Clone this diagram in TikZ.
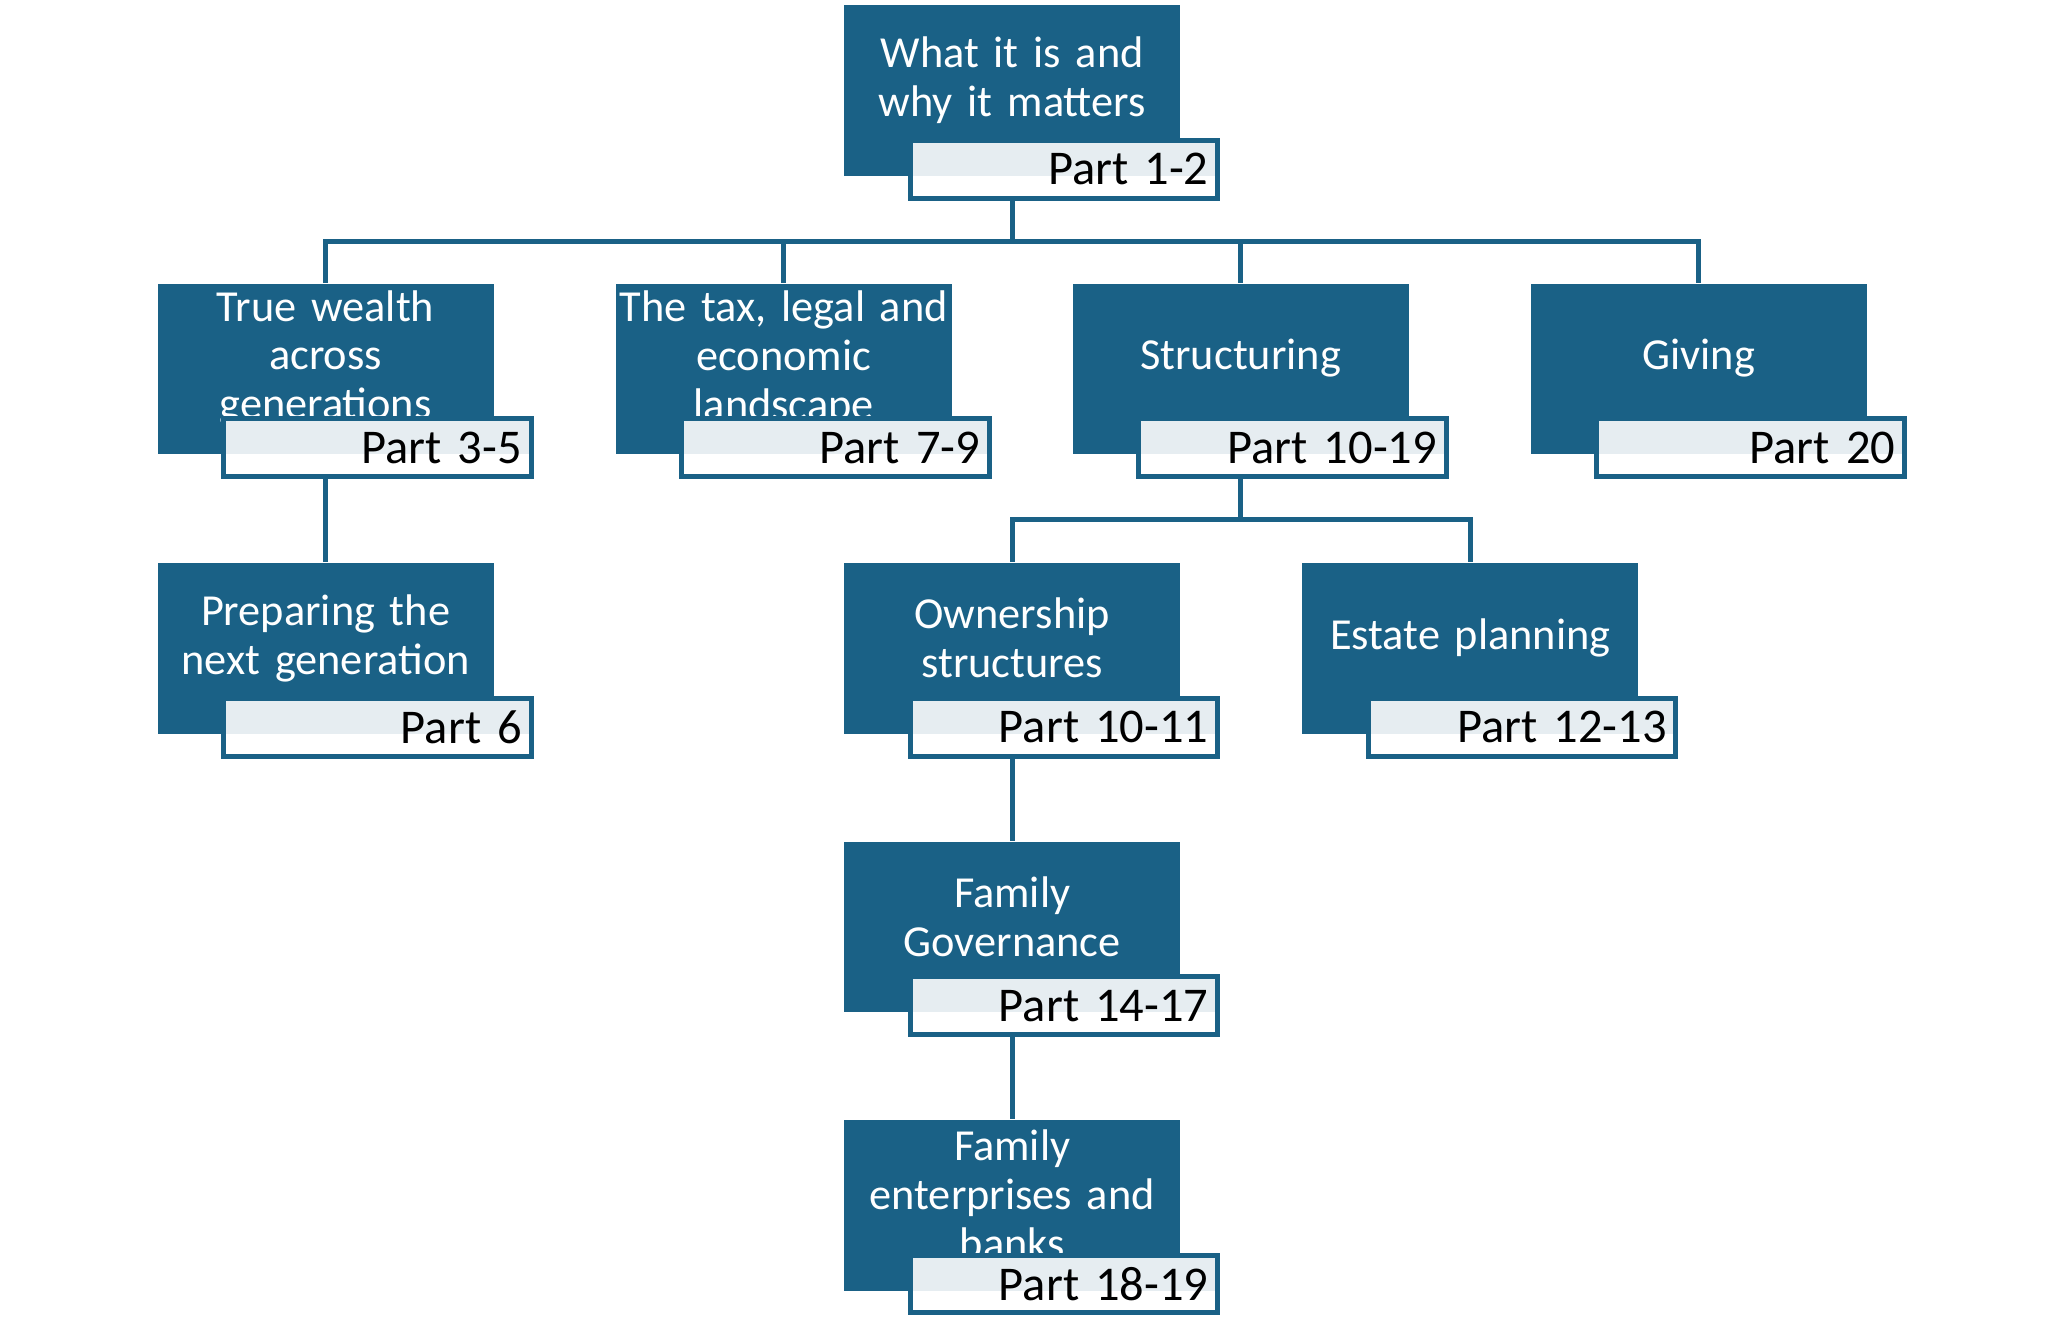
\documentclass[tikz,border=0pt]{standalone}
\usepackage{fontspec}
\setmainfont{Carlito}
\definecolor{teal}{HTML}{1A6186}
\definecolor{band}{HTML}{E6EDF1}
\tikzset{
  box/.style={minimum width=2.56cm,minimum height=1.14cm,inner sep=0pt,
    text=white,text width=2.5cm,align=center,font=\fontsize{9.6}{10.6}\selectfont},
  part/.style={draw=teal,line width=1.1pt,fill=white,minimum width=2.33cm,minimum height=0.44cm,
    inner sep=2pt,align=right,text width=2.2cm,font=\fontsize{10.5}{11}\selectfont,
    path picture={\fill[band] (path picture bounding box.north west) rectangle
      ([yshift=-0.27cm]path picture bounding box.north east);}},
  link/.style={draw=teal,line width=1.1pt}
}
% one topic block: dark box with its part tag
\newcommand{\topic}[5]{%
  \fill[teal] (#2,#3) rectangle ++(256,130);
  \node[box] (#1) at (#2+128,#3+57) {#4};
  \node[part] (#1-p) at (#2+167.5,#3+125) {#5};}
\begin{document}
\begin{tikzpicture}[x=0.01cm,y=-0.01cm]
\useasboundingbox (0,0) rectangle (1560,1017);

% top
\topic{root}{643}{4}{What it is and\\why it matters}{Part 1-2}

% first row
\topic{tw}{120}{216}{True wealth\\across\\generations}{Part 3-5}
\topic{tax}{469}{216}{The tax, legal and\\economic\\landscape}{Part 7-9}
\topic{str}{817}{216}{Structuring}{Part 10-19}
\topic{giv}{1166}{216}{Giving}{Part 20}

% second row
\topic{prep}{120}{429}{Preparing the\\next generation}{Part 6}
\topic{own}{643}{429}{Ownership\\structures}{Part 10-11}
\topic{est}{992}{429}{Estate planning}{Part 12-13}

% lower rows
\topic{gov}{643}{641}{Family\\Governance}{Part 14-17}
\topic{ent}{643}{853}{Family\\enterprises and\\banks}{Part 18-19}

% connectors
\draw[link] (root.south |- root-p.south) -- ++(0,31) coordinate (b1);
\foreach \n in {tw,tax,str,giv}
  \draw[link] (b1) -| (\n.north);
\draw[link] (str.south |- str-p.south) -- ++(0,31) coordinate (b2);
\foreach \n in {own,est}
  \draw[link] (b2) -| (\n.north);
\draw[link] (tw.south |- tw-p.south) -- (prep.north);
\draw[link] (own.south |- own-p.south) -- (gov.north);
\draw[link] (gov.south |- gov-p.south) -- (ent.north);
\end{tikzpicture}
\end{document}
